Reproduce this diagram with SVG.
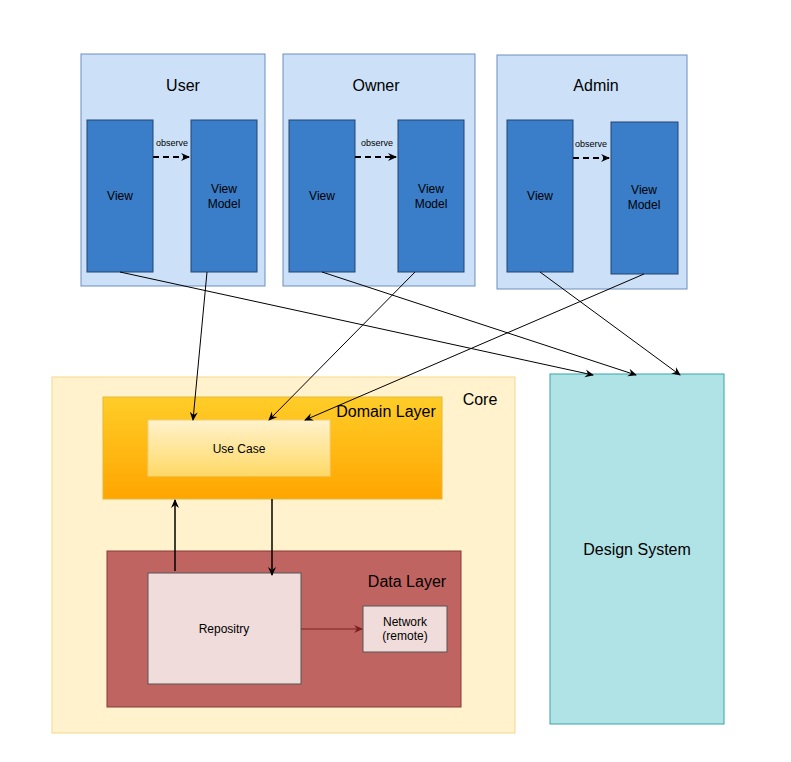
<svg xmlns="http://www.w3.org/2000/svg" width="791" height="762" viewBox="0 0 791 762">
<style>
text{font-family:"Liberation Sans",Arial,sans-serif;fill:#000}
.panel{fill:#cce0f8;stroke:#6c8ebf;stroke-width:1}
.blue{fill:#3a7dc9;stroke:#23456e;stroke-width:1}
.c{stroke:#000;stroke-width:1;fill:none}
.t12{font-size:12px;text-anchor:middle}
.t16{font-size:16px;text-anchor:middle}
.dash{stroke:#000;stroke-width:2;stroke-dasharray:6,4;fill:none}
</style>
<defs>
<marker id="a" markerWidth="10" markerHeight="10" refX="8" refY="5" orient="auto" markerUnits="userSpaceOnUse"><path d="M0,1 L9,5 L0,9 L3,5 Z" fill="#000"/></marker>
<marker id="ar" markerWidth="10" markerHeight="10" refX="8" refY="5" orient="auto" markerUnits="userSpaceOnUse"><path d="M0,1 L9,5 L0,9 L3,5 Z" fill="#7a2020"/></marker>
<linearGradient id="gd" x1="0" y1="0" x2="0" y2="1"><stop offset="0" stop-color="#ffcd28"/><stop offset="1" stop-color="#ffa500"/></linearGradient>
<linearGradient id="gu" x1="0" y1="0" x2="0" y2="1"><stop offset="0" stop-color="#fff2cc"/><stop offset="1" stop-color="#ffd966"/></linearGradient>
</defs>
<rect width="791" height="762" fill="#fff"/>
<g id="user">
<rect class="panel" x="81" y="54" width="184" height="232"/>
<text class="t16" x="183" y="91">User</text>
<rect class="blue" x="87" y="120" width="66" height="152"/>
<text class="t12" x="120" y="200">View</text>
<rect class="blue" x="191" y="120" width="66" height="152"/>
<text class="t12" x="224" y="193">View</text><text class="t12" x="224" y="208">Model</text>
<text x="172" y="146" font-size="9" text-anchor="middle">observe</text>
</g>
<g id="owner">
<rect class="panel" x="283" y="54" width="192" height="232"/>
<text class="t16" x="376" y="91">Owner</text>
<rect class="blue" x="289" y="120" width="66" height="152"/>
<text class="t12" x="322" y="200">View</text>
<rect class="blue" x="398" y="120" width="66" height="152"/>
<text class="t12" x="431" y="193">View</text><text class="t12" x="431" y="208">Model</text>
<text x="377" y="146" font-size="9" text-anchor="middle">observe</text>
</g>
<g id="admin">
<rect class="panel" x="497" y="55" width="190" height="234"/>
<text class="t16" x="596" y="91">Admin</text>
<rect class="blue" x="507" y="120" width="66" height="152"/>
<text class="t12" x="540" y="200">View</text>
<rect class="blue" x="611" y="122" width="67" height="152"/>
<text class="t12" x="644" y="194">View</text><text class="t12" x="644" y="209">Model</text>
<text x="591" y="147" font-size="9" text-anchor="middle">observe</text>
</g>
<g id="core">
<rect x="52" y="377" width="463" height="356" fill="#fff2cc" stroke="#f5d78c"/>
<text x="480" y="405" font-size="16" text-anchor="middle">Core</text>
</g>
<g id="domain">
<rect x="103" y="397" width="339" height="102" fill="url(#gd)" stroke="#e3b73b"/>
<text x="386" y="417" font-size="16" text-anchor="middle">Domain Layer</text>
</g>
<g id="usecase">
<rect x="148" y="420" width="182" height="56" fill="url(#gu)" stroke="#f0d080"/>
<text class="t12" x="239" y="453">Use Case</text>
</g>
<g id="data">
<rect x="107" y="551" width="354" height="156" fill="#c06461" stroke="#8a3a38"/>
<text x="407" y="587" font-size="16" text-anchor="middle">Data Layer</text>
</g>
<g id="repo">
<rect x="148" y="573" width="153" height="111" fill="#f0dcdb" stroke="#555"/>
<text class="t12" x="224" y="633">Repositry</text>
</g>
<g id="network">
<rect x="363" y="606" width="84" height="46" fill="#f0dcdb" stroke="#555"/>
<text class="t12" x="405" y="626">Network</text><text class="t12" x="405" y="640">(remote)</text>
</g>
<g id="design">
<rect x="550" y="374" width="174" height="350" fill="#b0e3e6" stroke="#3aa3a8"/>
<text x="637" y="555" font-size="16" text-anchor="middle">Design System</text>
</g>
<g id="connectors">
<line class="dash" x1="153" y1="157" x2="189" y2="157" marker-end="url(#a)"/>
<line class="dash" x1="355" y1="157" x2="396" y2="157" marker-end="url(#a)"/>
<line class="dash" x1="573" y1="158" x2="609" y2="158" marker-end="url(#a)"/>
<line class="c" x1="120" y1="272" x2="593" y2="375" marker-end="url(#a)"/>
<line class="c" x1="207" y1="272" x2="193" y2="420" marker-end="url(#a)"/>
<line class="c" x1="322" y1="272" x2="636" y2="375" marker-end="url(#a)"/>
<line class="c" x1="415" y1="272" x2="269" y2="420" marker-end="url(#a)"/>
<line class="c" x1="540" y1="272" x2="680" y2="375" marker-end="url(#a)"/>
<line class="c" x1="644" y1="274" x2="305" y2="420" marker-end="url(#a)"/>
<line x1="175" y1="571" x2="175" y2="500" stroke="#000" stroke-width="1.5" marker-end="url(#a)"/>
<line x1="272" y1="499" x2="272" y2="575" stroke="#000" stroke-width="1.5" marker-end="url(#a)"/>
<line x1="301" y1="629" x2="362" y2="629" stroke="#7a2020" stroke-width="1" marker-end="url(#ar)"/>
</g>
</svg>
